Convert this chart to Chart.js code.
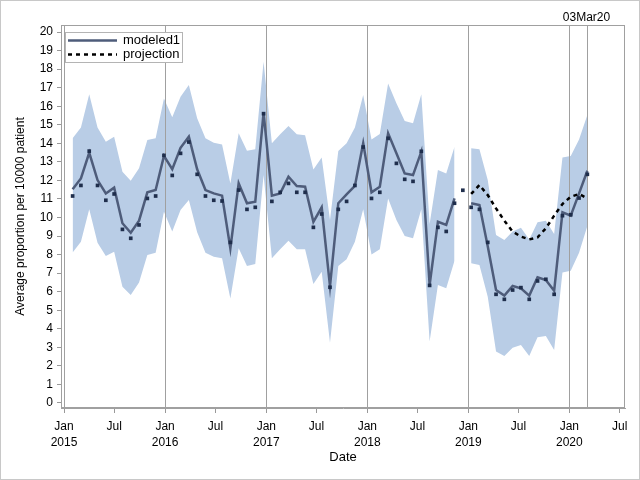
<!DOCTYPE html>
<html>
<head>
<meta charset="utf-8">
<script src="https://cdn.jsdelivr.net/npm/chart.js@4"></script>
<style>
  html, body { margin: 0; padding: 0; background: #fff; }
  #wrap { width: 640px; height: 480px; position: relative; }
</style>
</head>
<body>
<div id="wrap"><canvas id="chart"></canvas></div>
<script>
/* ================= DATA ================= */
const dates = [
  "2015-02-01","2015-03-03","2015-04-02","2015-05-02","2015-06-01","2015-07-01","2015-07-31","2015-08-30",
  "2015-09-29","2015-10-29","2015-11-28","2015-12-28","2016-01-27","2016-02-26","2016-03-27","2016-04-26",
  "2016-05-26","2016-06-25","2016-07-25","2016-08-24","2016-09-23","2016-10-23","2016-11-22","2016-12-22",
  "2017-01-21","2017-02-20","2017-03-22","2017-04-21","2017-05-21","2017-06-20","2017-07-20","2017-08-19",
  "2017-09-18","2017-10-18","2017-11-17","2017-12-17","2018-01-16","2018-02-15","2018-03-17","2018-04-16",
  "2018-05-16","2018-06-15","2018-07-15","2018-08-14","2018-09-13","2018-10-13","2018-11-12","2018-12-12",
  "2019-01-11","2019-02-10","2019-03-12","2019-04-11","2019-05-11","2019-06-10","2019-07-10","2019-08-09",
  "2019-09-08","2019-10-08","2019-11-07","2019-12-07","2020-01-06","2020-02-05","2020-03-06"
];

const modeled1 = [
  11.52, 12.11, 13.49, 12.02, 11.30, 11.61, 9.69, 9.18, 9.83, 11.36,
  11.48, 13.32, 12.61, 13.76, 14.36, 12.6, 11.48, 11.30, 11.18, 8.34,
  11.84, 10.77, 10.85, 15.65, 11.18, 11.30, 12.20, 11.70, 11.66, 9.77,
  10.55, 6.3, 10.77, 11.25, 11.70, 14.0, 11.36, 11.66, 14.54, 13.46,
  12.38, 12.29, 13.55, 6.36, 9.77, 9.60, 11.03, null, 10.77, 10.67,
  8.45, 6.09, 5.79, 6.31, 6.18, 5.79, 6.78, 6.63, 6.05, 10.28,
  10.10, 11.30, 12.52
];

const observed = [
  11.16, 11.73, 13.58, 11.73, 10.93, 11.27, 9.36, 8.88, 9.60, 11.03,
  11.16, 13.35, 12.27, 13.46, 14.07, 12.33, 11.16, 10.93, 10.89, 8.66,
  11.48, 10.44, 10.55, 15.6, 10.87, 11.36, 11.84, 11.36, 11.36, 9.47,
  10.19, 6.24, 10.44, 10.87, 11.73, 13.8, 11.03, 11.36, 14.27, 12.92,
  12.06, 11.95, 13.57, 6.34, 9.47, 9.25, 10.77, 11.47, 10.55, 10.44,
  8.66, 5.86, 5.59, 6.09, 6.22, 5.59, 6.58, 6.67, 5.86, 10.10,
  10.15, 11.05, 12.33
];

const upperCL = [
  14.27, 14.86, 16.64, 14.86, 14.09, 14.36, 12.47, 11.98, 12.65, 14.18,
  14.27, 16.42, 15.40, 16.51, 17.14, 15.35, 14.27, 14.03, 13.94, 11.84,
  14.54, 13.60, 13.68, 18.40, 14.0, 14.49, 14.93, 14.49, 14.44, 12.59,
  13.24, 9.87, 13.58, 14.0, 14.86, 16.60, 14.21, 14.50, 17.23, 16.16,
  15.20, 15.08, 16.64, 9.65, 12.56, 12.38, 13.82, null, 13.73, 13.68,
  12.02, 9.06, 8.79, 9.24, 9.45, 8.82, 9.74, 9.83, 9.11, 13.24,
  13.32, 14.21, 15.53
];

const lowerCL = [
  8.12, 8.70, 10.44, 8.64, 7.92, 8.16, 6.27, 5.82, 6.49, 7.98,
  8.10, 10.31, 9.24, 10.40, 10.94, 9.2, 8.10, 7.89, 7.80, 5.64,
  8.34, 7.39, 7.49, 12.29, 7.80, 8.29, 8.75, 8.29, 8.29, 6.41,
  7.08, 3.25, 7.39, 7.75, 8.70, 10.44, 8.0, 8.29, 11.03, 9.87,
  9.0, 8.88, 10.44, 3.31, 6.36, 6.18, 7.67, null, 7.53, 7.44,
  5.73, 2.77, 2.53, 2.98, 3.13, 2.53, 3.54, 3.61, 2.86, 7.03,
  7.13, 8.10, 9.54
];

const projection = [
  null, null, null, null, null, null, null, null, null, null,
  null, null, null, null, null, null, null, null, null, null,
  null, null, null, null, null, null, null, null, null, null,
  null, null, null, null, null, null, null, null, null, null,
  null, null, null, null, null, null, null, null, 11.27, 11.75,
  11.21, 10.49, 9.83, 9.24, 8.97, 8.82, 8.93, 9.42, 10.10, 10.73,
  11.12, 11.27, 11.03
];

const tickDates = ["2015-01-01","2015-07-01","2016-01-01","2016-07-01","2017-01-01","2017-07-01",
                   "2018-01-01","2018-07-01","2019-01-01","2019-07-01","2020-01-01","2020-07-01"];
const tickLabels = [["Jan","2015"],"Jul",["Jan","2016"],"Jul",["Jan","2017"],"Jul",
                    ["Jan","2018"],"Jul",["Jan","2019"],"Jul",["Jan","2020"],"Jul"];
const yTicks = [0,1,2,3,4,5,6,7,8,9,10,11,12,13,14,15,16,17,18,19,20];

const refDates = ["2015-01-01","2016-01-01","2017-01-01","2018-01-01","2019-01-01","2020-01-01","2020-03-03"];
const refLabel = "03Mar20";

/* ================= HELPERS ================= */
const FONT = "'Liberation Sans', Arial, sans-serif";

function dayNum(s) {
    const p = s.split("-").map(Number);
    return (Date.UTC(p[0], p[1] - 1, p[2]) - Date.UTC(2015, 0, 1)) / 86400000;
}

function pts(arr) {
    return dates.map((d, i) => ({ x: dayNum(d), y: arr[i] }));
}

/* ================= DECORATIONS ================= */
const decor = {
    id: "decor",
    beforeDatasetsDraw(chart) {
        const { ctx, chartArea: a, scales } = chart;
        ctx.save();
        ctx.strokeStyle = "#a0a0a0";
        ctx.lineWidth = 1;
        refDates.forEach(d => {
            const x = Math.round(scales.x.getPixelForValue(dayNum(d))) + 0.5;
            ctx.beginPath();
            ctx.moveTo(x, a.top);
            ctx.lineTo(x, a.bottom);
            ctx.stroke();
        });
        ctx.restore();
    },
    afterDraw(chart) {
        const { ctx, chartArea: a, scales } = chart;
        ctx.save();

        // plot frame
        ctx.strokeStyle = "#a0a0a0";
        ctx.lineWidth = 1;
        ctx.strokeRect(Math.round(a.left) + 0.5, Math.round(a.top) + 0.5,
                       Math.round(a.right - a.left) - 1, Math.round(a.bottom - a.top) - 1);

        // outer border
        ctx.strokeStyle = "#c8c8c8";
        ctx.strokeRect(0.5, 0.5, 639, 479);

        // reference label
        const rx = scales.x.getPixelForValue(dayNum(refDates[refDates.length - 1]));
        ctx.fillStyle = "#000";
        ctx.font = "12px " + FONT;
        ctx.textAlign = "center";
        ctx.textBaseline = "middle";
        ctx.fillText(refLabel, rx, 18);

        // legend
        const lx = a.left + 4, ly = a.top + 7;
        ctx.fillStyle = "#fff";
        ctx.fillRect(lx + 0.5, ly + 0.5, 117, 30);
        ctx.strokeStyle = "#b4b4b4";
        ctx.strokeRect(lx + 0.5, ly + 0.5, 117, 30);

        ctx.lineWidth = 2.5;
        ctx.strokeStyle = "#4e5c7a";
        ctx.beginPath();
        ctx.moveTo(lx + 3, ly + 8.5);
        ctx.lineTo(lx + 52, ly + 8.5);
        ctx.stroke();

        ctx.strokeStyle = "#000";
        ctx.setLineDash([4, 4]);
        ctx.beginPath();
        ctx.moveTo(lx + 3, ly + 22.5);
        ctx.lineTo(lx + 52, ly + 22.5);
        ctx.stroke();
        ctx.setLineDash([]);

        ctx.fillStyle = "#000";
        ctx.font = "13px " + FONT;
        ctx.textAlign = "left";
        ctx.fillText("modeled1", lx + 58, ly + 8.5);
        ctx.fillText("projection", lx + 58, ly + 22.5);

        ctx.restore();
    }
};

/* ================= CHART ================= */
new Chart(document.getElementById("chart"), {
    type: "line",
    data: {
        datasets: [
            {
                label: "lower",
                data: pts(lowerCL),
                borderWidth: 0,
                borderColor: "rgba(0,0,0,0)",
                pointRadius: 0,
                fill: false,
                order: 10
            },
            {
                label: "band",
                data: pts(upperCL),
                borderWidth: 0,
                borderColor: "rgba(0,0,0,0)",
                backgroundColor: "#b9cde6",
                pointRadius: 0,
                fill: "-1",
                order: 9
            },
            {
                label: "modeled1",
                data: pts(modeled1),
                borderColor: "#4e5c7a",
                borderWidth: 2.5,
                pointRadius: 0,
                fill: false,
                order: 3
            },
            {
                label: "projection",
                data: pts(projection),
                borderColor: "#000",
                borderWidth: 2.5,
                borderDash: [4, 4],
                pointRadius: 0,
                fill: false,
                order: 2
            },
            {
                label: "observed",
                data: pts(observed),
                showLine: false,
                pointStyle: "rect",
                pointRadius: 2.6,
                pointBorderWidth: 0,
                pointBackgroundColor: "#1f2e4c",
                fill: false,
                order: 1
            }
        ]
    },
    options: {
        responsive: true,
        maintainAspectRatio: false,
        devicePixelRatio: 1,
        animation: false,
        events: [],
        layout: { padding: { top: 25, right: 15, left: 0, bottom: 0 } },
        elements: { line: { tension: 0 } },
        plugins: {
            legend: { display: false },
            tooltip: { enabled: false },
            filler: { propagate: false, drawTime: "beforeDatasetsDraw" }
        },
        scales: {
            x: {
                type: "linear",
                min: -11,
                max: 2027,
                afterBuildTicks: s => { s.ticks = tickDates.map(d => ({ value: dayNum(d) })); },
                afterFit: s => { s.height = 72; },
                ticks: {
                    autoSkip: false,
                    maxRotation: 0,
                    padding: 6,
                    color: "#000",
                    font: { family: FONT, size: 12, lineHeight: 1.3 },
                    callback: (v, i) => tickLabels[i]
                },
                grid: { drawOnChartArea: false, tickLength: 5, color: "#999" },
                border: { color: "#a0a0a0" },
                title: {
                    display: true,
                    text: "Date",
                    color: "#000",
                    font: { family: FONT, size: 13 },
                    padding: { top: 0, bottom: 15 }
                }
            },
            y: {
                min: -0.27,
                max: 20.38,
                afterBuildTicks: s => { s.ticks = yTicks.map(v => ({ value: v })); },
                afterFit: s => { s.width = 61; },
                ticks: {
                    padding: 4,
                    color: "#000",
                    font: { family: FONT, size: 12 }
                },
                grid: { drawOnChartArea: false, tickLength: 4, color: "#999" },
                border: { color: "#a0a0a0" },
                title: {
                    display: true,
                    text: "Average proportion per 10000 patient",
                    color: "#000",
                    font: { family: FONT, size: 12 },
                    padding: { top: 13, bottom: 0 }
                }
            }
        }
    },
    plugins: [decor]
});
</script>
</body>
</html>
